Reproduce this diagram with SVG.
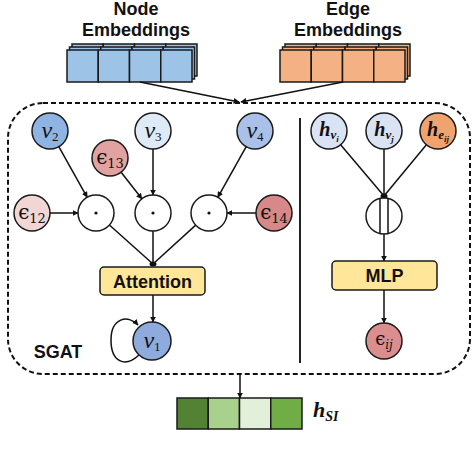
<svg xmlns="http://www.w3.org/2000/svg" width="474" height="452" viewBox="0 0 474 452">
<defs>
<marker id="ah" viewBox="0 0 10 10" refX="9" refY="5" markerWidth="6" markerHeight="6" orient="auto" markerUnits="userSpaceOnUse">
<path d="M0,0 L10,5 L0,10 z" fill="#111"/>
</marker>
<style>
.lbl{font-family:"Liberation Sans",Arial,sans-serif;font-weight:bold;font-size:18px;fill:#111;text-anchor:middle}
.node{stroke:#1a1a1a;stroke-width:1.5}
.m{font-family:"Liberation Serif","DejaVu Serif",serif;font-style:italic;fill:#111;text-anchor:middle}
.hb{font-family:"Liberation Serif","DejaVu Serif",serif;font-style:italic;font-weight:bold;fill:#111;text-anchor:middle}
.e{font-family:"DejaVu Serif","Liberation Serif",serif;fill:#111;text-anchor:middle}
.ln{stroke:#111;stroke-width:1.5;fill:none}
.cell{stroke:#1a1a1a;stroke-width:1.5}
.box{fill:#ffe699;stroke:#1a1a1a;stroke-width:1.5}
</style>
</defs>

<g id="labels">
<text class="lbl" x="136" y="15">Node</text>
<text class="lbl" x="136" y="36">Embeddings</text>
<text class="lbl" x="348" y="15">Edge</text>
<text class="lbl" x="348" y="36">Embeddings</text>
<text class="lbl" x="58" y="358">SGAT</text>
</g>

<g id="node-embeddings">
<g fill="#9dc3e6" class="cell">
<rect x="72" y="44" width="31.25" height="32"/><rect x="103.25" y="44" width="31.25" height="32"/><rect x="134.5" y="44" width="31.25" height="32"/><rect x="165.75" y="44" width="31.25" height="32"/>
<rect x="69.5" y="47" width="31.25" height="32"/><rect x="100.75" y="47" width="31.25" height="32"/><rect x="132" y="47" width="31.25" height="32"/><rect x="163.25" y="47" width="31.25" height="32"/>
<rect x="67" y="50" width="31.25" height="32"/><rect x="98.25" y="50" width="31.25" height="32"/><rect x="129.5" y="50" width="31.25" height="32"/><rect x="160.75" y="50" width="31.25" height="32"/>
</g>
</g>

<g id="edge-embeddings">
<g fill="#f4b183" class="cell">
<rect x="285" y="44" width="31.25" height="32"/><rect x="316.25" y="44" width="31.25" height="32"/><rect x="347.5" y="44" width="31.25" height="32"/><rect x="378.75" y="44" width="31.25" height="32"/>
<rect x="282.5" y="47" width="31.25" height="32"/><rect x="313.75" y="47" width="31.25" height="32"/><rect x="345" y="47" width="31.25" height="32"/><rect x="376.25" y="47" width="31.25" height="32"/>
<rect x="280" y="50" width="31.25" height="32"/><rect x="311.25" y="50" width="31.25" height="32"/><rect x="342.5" y="50" width="31.25" height="32"/><rect x="373.75" y="50" width="31.25" height="32"/>
</g>
</g>

<g id="sgat-frame">
<rect x="8" y="103" width="462" height="271" rx="35" ry="35" fill="none" stroke="#111" stroke-width="2" stroke-dasharray="5,3"/>
<line x1="300" y1="118" x2="300" y2="363" stroke="#222" stroke-width="2"/>
</g>

<g id="connectors">
<line class="ln" x1="140" y1="82" x2="239" y2="102" marker-end="url(#ah)"/>
<line class="ln" x1="343" y1="82" x2="241" y2="102" marker-end="url(#ah)"/>
<line class="ln" x1="58.8" y1="146.7" x2="87.2" y2="197.3" marker-end="url(#ah)"/>
<line class="ln" x1="50" y1="213" x2="78" y2="213" marker-end="url(#ah)"/>
<line class="ln" x1="121.1" y1="172.2" x2="141.9" y2="198.8" marker-end="url(#ah)"/>
<line class="ln" x1="153" y1="149" x2="153" y2="195" marker-end="url(#ah)"/>
<line class="ln" x1="246.2" y1="146.7" x2="217.8" y2="197.3" marker-end="url(#ah)"/>
<line class="ln" x1="256" y1="213" x2="227" y2="213" marker-end="url(#ah)"/>
<line class="ln" x1="109.4" y1="225" x2="153" y2="264"/>
<line class="ln" x1="153" y1="231" x2="153" y2="264"/>
<line class="ln" x1="195.7" y1="225.1" x2="153" y2="264"/>
<ellipse cx="153" cy="264" rx="3.5" ry="2.5" fill="#111"/>
<line class="ln" x1="153" y1="295" x2="153" y2="322" marker-end="url(#ah)"/>
<path class="ln" d="M139,355 C125,368 111,362 111,340 C111,318 128,314 138,325" marker-end="url(#ah)"/>
<line class="ln" x1="340.6" y1="144.8" x2="384" y2="196"/>
<line class="ln" x1="384" y1="149" x2="384" y2="196"/>
<line class="ln" x1="426.4" y1="144.8" x2="384" y2="196"/>
<ellipse cx="384" cy="196" rx="3.5" ry="2.5" fill="#111"/>
<line class="ln" x1="384" y1="234" x2="384" y2="261" marker-end="url(#ah)"/>
<line class="ln" x1="384" y1="290" x2="384" y2="323" marker-end="url(#ah)"/>
<line class="ln" x1="240" y1="374" x2="240" y2="398" marker-end="url(#ah)"/>
</g>

<g id="v2"><circle class="node" cx="50" cy="131" r="18" fill="#8fb4e3"/><text class="m" x="50" y="138" font-size="24">v<tspan font-size="13" font-style="normal" dy="3">2</tspan></text></g>
<g id="v3"><circle class="node" cx="153" cy="131" r="18" fill="#deebf7"/><text class="m" x="153" y="138" font-size="24">v<tspan font-size="13" font-style="normal" dy="3">3</tspan></text></g>
<g id="v4"><circle class="node" cx="255" cy="131" r="18" fill="#a9c0e8"/><text class="m" x="255" y="138" font-size="24">v<tspan font-size="13" font-style="normal" dy="3">4</tspan></text></g>
<g id="e13"><circle class="node" cx="110" cy="158" r="18" fill="#e3a2a2"/><text class="e" x="110" y="164" font-size="20">ϵ<tspan font-size="13" dy="4">13</tspan></text></g>
<g id="e12"><circle class="node" cx="32" cy="213" r="18" fill="#f2d6d6"/><text class="e" x="32" y="219" font-size="20">ϵ<tspan font-size="13" dy="4">12</tspan></text></g>
<g id="e14"><circle class="node" cx="274" cy="213" r="18" fill="#d88888"/><text class="e" x="274" y="219" font-size="20">ϵ<tspan font-size="13" dy="4">14</tspan></text></g>
<g id="dot1"><circle class="node" cx="96" cy="213" r="18" fill="#fff"/><circle cx="96" cy="213" r="1.6" fill="#111"/></g>
<g id="dot2"><circle class="node" cx="153" cy="213" r="18" fill="#fff"/><circle cx="153" cy="213" r="1.6" fill="#111"/></g>
<g id="dot3"><circle class="node" cx="209" cy="213" r="18" fill="#fff"/><circle cx="209" cy="213" r="1.6" fill="#111"/></g>
<g id="attention"><rect class="box" x="100" y="267" width="105" height="28" rx="4"/><text class="lbl" x="152.5" y="287.5">Attention</text></g>
<g id="v1"><circle class="node" cx="152" cy="341" r="19" fill="#8faadc"/><text class="m" x="152" y="348" font-size="24">v<tspan font-size="13" font-style="normal" dy="3">1</tspan></text></g>

<g id="hvi"><circle class="node" cx="329" cy="131" r="18" fill="#dae3f3"/><text class="hb" x="329" y="136" font-size="20">h<tspan font-size="13" dy="3">v</tspan><tspan font-size="9" dy="3">i</tspan></text></g>
<g id="hvj"><circle class="node" cx="384" cy="131" r="18" fill="#dae3f3"/><text class="hb" x="384" y="136" font-size="20">h<tspan font-size="13" dy="3">v</tspan><tspan font-size="9" dy="3">j</tspan></text></g>
<g id="heij"><circle class="node" cx="438" cy="131" r="18" fill="#f1a36f"/><text class="hb" x="438" y="136" font-size="20">h<tspan font-size="13" dy="3">e</tspan><tspan font-size="9" dy="3">ij</tspan></text></g>
<g id="concat"><circle class="node" cx="384" cy="216" r="18" fill="#fff"/><line class="ln" x1="380" y1="198.5" x2="380" y2="233.5"/><line class="ln" x1="388" y1="198.5" x2="388" y2="233.5"/></g>
<g id="mlp"><rect class="box" x="332" y="261" width="105" height="29" rx="4"/><text class="lbl" x="384.5" y="282">MLP</text></g>
<g id="eij"><circle class="node" cx="384" cy="341" r="18" fill="#dc8e8e"/><text class="e" x="384" y="345" font-size="18">ϵ<tspan font-size="12" font-style="italic" dy="4">ij</tspan></text></g>

<g id="hSI">
<rect class="cell" x="177" y="398" width="31.25" height="31" fill="#548235"/>
<rect class="cell" x="208.25" y="398" width="31.25" height="31" fill="#a9d18e"/>
<rect class="cell" x="239.5" y="398" width="31.25" height="31" fill="#e2f0d9"/>
<rect class="cell" x="270.75" y="398" width="31.25" height="31" fill="#70ad47"/>
<text class="hb" x="313" y="417" font-size="22" style="text-anchor:start">h<tspan font-size="14" dy="4">SI</tspan></text>
</g>
</svg>
